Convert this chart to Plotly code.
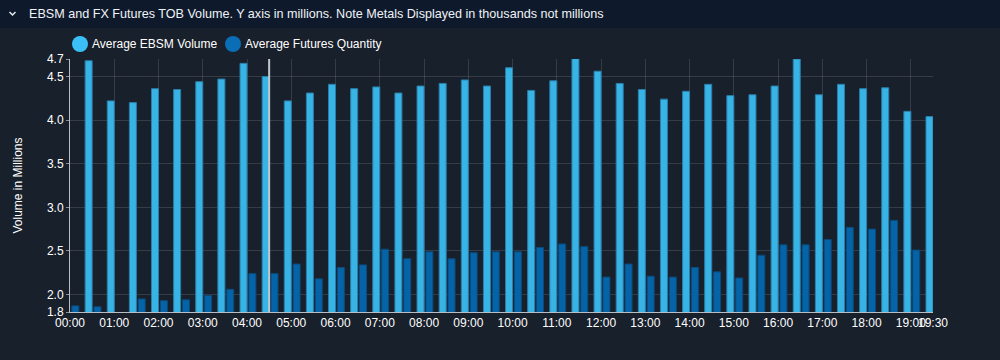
import plotly.graph_objects as go

# ---- data ----
slots = [f"{h:02d}:{m:02d}" for h in range(20) for m in (0, 30)][:39]  # 00:00 .. 19:00
ebsm_volume = [4.68, 4.22, 4.20, 4.36, 4.35, 4.44, 4.47, 4.65, 4.50, 4.22,
               4.31, 4.41, 4.36, 4.38, 4.31, 4.39, 4.42, 4.46, 4.39, 4.60,
               4.34, 4.45, 4.71, 4.56, 4.42, 4.35, 4.24, 4.33, 4.41, 4.28,
               4.29, 4.39, 4.70, 4.29, 4.41, 4.36, 4.37, 4.10, 4.04]
futures_qty = [1.87, 1.86, 1.79, 1.95, 1.93, 1.94, 1.99, 2.06, 2.24, 2.24,
               2.35, 2.18, 2.31, 2.34, 2.52, 2.41, 2.49, 2.41, 2.48, 2.49,
               2.49, 2.54, 2.58, 2.55, 2.20, 2.35, 2.21, 2.20, 2.31, 2.26,
               2.19, 2.45, 2.57, 2.57, 2.63, 2.77, 2.75, 2.85, 2.51]
x_tick_labels = [f"{h:02d}:00" for h in range(20)] + ["19:30"]
y_tick_labels = ["1.8", "2.0", "2.5", "3.0", "3.5", "4.0", "4.5", "4.7"]
series_names = ["Average EBSM Volume", "Average Futures Quantity"]
highlight_time = "04:30"

def to_min(s):
    h, m = s.split(":")
    return int(h) * 60 + int(m)

x_min = [to_min(s) for s in slots]
x_tick_vals = [to_min(s) for s in x_tick_labels]
y_tick_vals = [float(v) for v in y_tick_labels]

W, H = 1000, 360
L, R, T, B = 70, 67, 59, 48
PW, PH = W - L - R, H - T - B
def px(xp):
    return (xp - L) / PW
def py(yp):
    return (H - B - yp) / PH

BG = "#18202b"
FONT = "Liberation Sans, Arial, sans-serif"
LIGHT, DARK = "#38b3e5", "#0563a8"

fig = go.Figure()
fig.add_trace(go.Bar(
    x=x_min, y=futures_qty, name=series_names[1], showlegend=False,
    offset=2.5, width=9.5,
    marker=dict(color=DARK, line=dict(color="#0b4a7a", width=1)),
))
fig.add_trace(go.Bar(
    x=x_min, y=ebsm_volume, name=series_names[0], showlegend=False,
    offset=20.5, width=9.5,
    marker=dict(color=LIGHT, line=dict(color="#2a7ea9", width=1)),
))

hl = to_min(highlight_time)
fig.add_shape(type="line", xref="x", yref="paper", x0=hl, x1=hl, y0=0, y1=1,
              line=dict(color="#c3c8cd", width=2), layer="above")

# header bar
fig.add_shape(type="rect", xref="paper", yref="paper", x0=px(0), x1=px(W),
              y0=py(28), y1=py(0), fillcolor="#0e1a2c", line=dict(width=0), layer="below")
fig.add_shape(type="path", xref="paper", yref="paper",
              path=f"M {px(9.5)} {py(12)} L {px(12.5)} {py(15)} L {px(15.5)} {py(12)}",
              line=dict(color="#e6eaee", width=1.5))
fig.add_annotation(text="EBSM and FX Futures TOB Volume. Y axis in millions. Note Metals Displayed in thousands not millions",
                   xref="paper", yref="paper", x=px(27), y=py(14), xanchor="left", yanchor="middle",
                   showarrow=False, font=dict(family=FONT, size=12.6, color="#f0f3f6"))

# legend (circle swatches + labels)
legend_items = [(series_names[0], "#3bbff7", 80), (series_names[1], "#0a6db5", 233)]
for name, col, cx in legend_items:
    fig.add_shape(type="circle", xref="paper", yref="paper",
                  x0=px(cx - 8), x1=px(cx + 8), y0=py(52), y1=py(36),
                  fillcolor=col, line=dict(width=0))
    fig.add_annotation(text=name, xref="paper", yref="paper", x=px(cx + 9.5), y=py(44),
                       xanchor="left", yanchor="middle", showarrow=False,
                       font=dict(family=FONT, size=12, color="#ffffff"))

fig.update_layout(
    width=W, height=H,
    margin=dict(l=L, r=R, t=T, b=B, pad=0),
    paper_bgcolor=BG, plot_bgcolor=BG,
    barmode="overlay",
    font=dict(family=FONT, size=12, color="#ffffff"),
    showlegend=False,
    xaxis=dict(range=[0, 1170], tickmode="array", tickvals=x_tick_vals, ticktext=x_tick_labels,
               tickangle=0, showgrid=False, showline=True, linecolor="#b8bec4", linewidth=1,
               ticks="", tickfont=dict(size=12, color="#ffffff"), zeroline=False,
               minor=dict(tickmode="array", tickvals=x_tick_vals[1:-1], showgrid=True,
                          gridcolor="rgba(255,255,255,0.13)", gridwidth=1, ticks="")),
    yaxis=dict(range=[1.8, 4.7], tickmode="array", tickvals=y_tick_vals, ticktext=y_tick_labels,
               showgrid=False, showline=True, linecolor="#b8bec4", linewidth=1,
               ticks="outside", ticklen=3, tickcolor="#8a9096", zeroline=False,
               tickfont=dict(size=12, color="#ffffff"),
               title=dict(text="Volume in Millions", font=dict(size=12, color="#ffffff"), standoff=21),
               minor=dict(tickmode="array", tickvals=y_tick_vals[1:-1], showgrid=True,
                          gridcolor="rgba(255,255,255,0.13)", gridwidth=1, ticks="")),
)

fig.write_html("out.html")
